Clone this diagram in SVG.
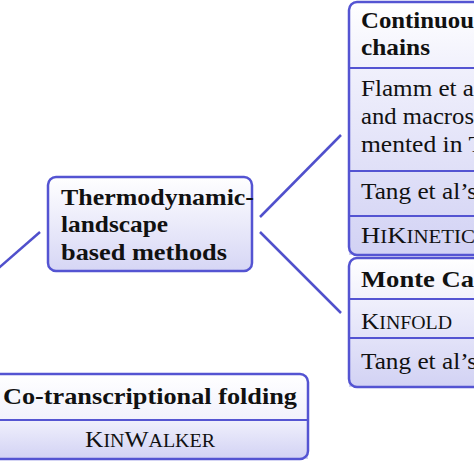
<svg xmlns="http://www.w3.org/2000/svg" width="474" height="474" viewBox="0 0 474 474">
<defs>
<linearGradient id="gNode" x1="0" y1="0" x2="0" y2="1"><stop offset="0" stop-color="#ffffff"/><stop offset="1" stop-color="#d6d6f5"/></linearGradient>
<linearGradient id="gTitle" x1="0" y1="0" x2="0" y2="1"><stop offset="0" stop-color="#ffffff"/><stop offset="1" stop-color="#f1f1fc"/></linearGradient>
<linearGradient id="gBody" x1="0" y1="0" x2="0" y2="1"><stop offset="0" stop-color="#f0f0fc"/><stop offset="1" stop-color="#d2d2f4"/></linearGradient>
</defs>
<style>
.box{stroke:#5454d2;stroke-width:2.5}
.div{stroke:#5454d2;stroke-width:2}
.conn{stroke:#5050cc;stroke-width:2.5;fill:none}
.b{font-family:"Liberation Serif","Times New Roman",serif;font-weight:bold;font-size:24px;fill:#111111}
.r{font-family:"Liberation Serif","Times New Roman",serif;font-size:23px;fill:#111111}
.sc{font-size:18px}
</style>
<rect width="474" height="474" fill="#ffffff"/>
<g id="connectors">
<line class="conn" x1="-6" y1="272" x2="40" y2="232"/>
<line class="conn" x1="260" y1="217" x2="341" y2="135"/>
<line class="conn" x1="260" y1="232" x2="341" y2="313"/>
</g>
<g id="thermo">
<rect class="box" x="48" y="177" width="204" height="94" rx="8" fill="url(#gNode)"/>
<text class="b" x="61" y="205" textLength="193" lengthAdjust="spacingAndGlyphs">Thermodynamic-</text>
<text class="b" x="61" y="232" textLength="107" lengthAdjust="spacingAndGlyphs">landscape</text>
<text class="b" x="61" y="260" textLength="166" lengthAdjust="spacingAndGlyphs">based methods</text>
</g>
<g id="continuous">
<rect x="349" y="68" width="160" height="187" fill="url(#gBody)"/>
<path d="M349,68 V10 a8,8 0 0 1 8,-8 H510 V68 Z" fill="url(#gTitle)"/>
<rect class="box" x="349" y="2" width="160" height="253" rx="8" fill="none"/>
<line class="div" x1="349" y1="68" x2="474" y2="68"/>
<line class="div" x1="349" y1="171" x2="474" y2="171"/>
<line class="div" x1="349" y1="216" x2="474" y2="216"/>
<text class="b" x="361" y="28" textLength="113" lengthAdjust="spacingAndGlyphs">Continuou</text>
<text class="b" x="361" y="55" textLength="69" lengthAdjust="spacingAndGlyphs">chains</text>
<text class="r" x="361" y="96" textLength="113" lengthAdjust="spacingAndGlyphs">Flamm et a</text>
<text class="r" x="361" y="124" textLength="113" lengthAdjust="spacingAndGlyphs">and macros</text>
<text class="r" x="361" y="152" textLength="123" lengthAdjust="spacingAndGlyphs">mented in T</text>
<text class="r" x="361" y="199" textLength="116" lengthAdjust="spacingAndGlyphs">Tang et al’s</text>
<text class="r" x="361" y="243" textLength="114" lengthAdjust="spacingAndGlyphs">H<tspan class="sc">I</tspan>K<tspan class="sc">INETIC</tspan></text>
</g>
<g id="montecarlo">
<rect x="349" y="299" width="160" height="88" fill="url(#gBody)"/>
<path d="M349,299 V266 a8,8 0 0 1 8,-8 H510 V299 Z" fill="url(#gTitle)"/>
<rect class="box" x="349" y="258" width="160" height="129" rx="8" fill="none"/>
<line class="div" x1="349" y1="299" x2="474" y2="299"/>
<line class="div" x1="349" y1="338" x2="474" y2="338"/>
<text class="b" x="361" y="287" textLength="113" lengthAdjust="spacingAndGlyphs">Monte Ca</text>
<text class="r" x="361" y="329" textLength="91" lengthAdjust="spacingAndGlyphs">K<tspan class="sc">INFOLD</tspan></text>
<text class="r" x="361" y="369" textLength="116" lengthAdjust="spacingAndGlyphs">Tang et al’s</text>
</g>
<g id="cotranscriptional">
<rect x="-10" y="420" width="318" height="39" fill="url(#gBody)"/>
<path d="M-10,420 V374 H300 a8,8 0 0 1 8,8 V420 Z" fill="url(#gTitle)"/>
<rect class="box" x="-10" y="374" width="318" height="85" rx="8" fill="none"/>
<line class="div" x1="0" y1="420" x2="308" y2="420"/>
<text class="b" x="150" y="404" text-anchor="middle" textLength="294" lengthAdjust="spacingAndGlyphs">Co-transcriptional folding</text>
<text class="r" x="150" y="447" text-anchor="middle" textLength="130" lengthAdjust="spacingAndGlyphs">K<tspan class="sc">IN</tspan>W<tspan class="sc">ALKER</tspan></text>
</g>
</svg>
